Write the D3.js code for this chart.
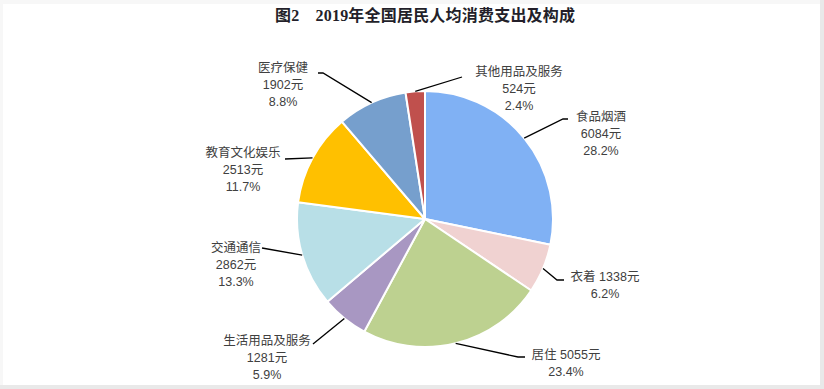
<!DOCTYPE html>
<html>
<head>
<meta charset="utf-8">
<script src="https://cdn.jsdelivr.net/npm/d3@7/dist/d3.min.js"></script>
<style>
html,body{margin:0;padding:0;background:#ebebeb;}
svg{display:block;}
</style>
</head>
<body>
<svg id="chart" width="824" height="389"></svg>
<script>
// ---- data ----
const title = "图2　2019年全国居民人均消费支出及构成";
const categories = ["食品烟酒", "衣着", "居住", "生活用品及服务", "交通通信", "教育文化娱乐", "医疗保健", "其他用品及服务"];
const values = [6084, 1338, 5055, 1281, 2862, 2513, 1902, 524];
const percents = ["28.2%", "6.2%", "23.4%", "5.9%", "13.3%", "11.7%", "8.8%", "2.4%"];
const colors = ["#80b1f4", "#f0d2d1", "#bdd190", "#a897c2", "#b8dfe7", "#ffc000", "#769fcd", "#c0504d"];

// ---- layout (styles / positions) ----
const W = 824, H = 389;
const cx = 425, cy = 219, R = 128;
// label layout per slice: elbow point & text anchor relative to pie centre
const labelLayout = [
  {elbow:[138,-100], end:[143,-100], tx:176, ty:-103, inline:false},
  {elbow:[132,61], end:[139,61], tx:180, ty:57, inline:true},
  {elbow:[93,138], end:[100,138], tx:141, ty:135, inline:true},
  {elbow:[-112,125], end:null, tx:-158, ty:121, inline:false},
  {elbow:[-163,29], end:null, tx:-189, ty:28, inline:false},
  {elbow:[-140,-60], end:null, tx:-182, ty:-67, inline:false},
  {elbow:[-102,-146], end:[-107,-146], tx:-142, ty:-152, inline:false},
  {elbow:[37,-142], end:null, tx:94, ty:-148, inline:false}
];

const svg = d3.select("#chart");
// frame
svg.append("rect").attr("x",0).attr("y",0).attr("width",W).attr("height",H).attr("fill","#e9e9e9");
svg.append("rect").attr("x",0).attr("y",0).attr("width",820).attr("height",385).attr("fill","#f7f7f7");
svg.append("rect").attr("x",3).attr("y",4).attr("width",817).attr("height",381).attr("fill","#ffffff");

// title
svg.append("text")
  .attr("x", 425).attr("y", 21)
  .attr("text-anchor","middle")
  .attr("font-family","'Liberation Serif','Noto Sans CJK SC',serif")
  .attr("font-weight","bold")
  .attr("font-size", 16)
  .attr("fill","#231f2a")
  .attr("textLength", 300)
  .attr("lengthAdjust","spacing")
  .text(title);

const pie = d3.pie().sort(null).value(d => d.value).startAngle(0).endAngle(2*Math.PI);
const data = categories.map((c,i) => ({cat:c, value:values[i], pct:percents[i], color:colors[i], lay:labelLayout[i]}));
const arcs = pie(data);
const arc = d3.arc().innerRadius(0).outerRadius(R);

const g = svg.append("g").attr("transform", `translate(${cx},${cy})`);
g.selectAll("path.slice").data(arcs).join("path")
  .attr("class","slice")
  .attr("d", arc)
  .attr("fill", d => d.data.color)
  .attr("stroke", "#ffffff")
  .attr("stroke-width", 2)
  .attr("stroke-linejoin","round");

// leader lines
g.selectAll("polyline.leader").data(arcs).join("polyline")
  .attr("class","leader")
  .attr("fill","none")
  .attr("stroke","#000")
  .attr("stroke-width",1.3)
  .attr("points", d => {
    const a = (d.startAngle + d.endAngle)/2;
    const p0 = [R*Math.sin(a), -R*Math.cos(a)];
    const pts = [p0, d.data.lay.elbow];
    if (d.data.lay.end) pts.push(d.data.lay.end);
    return pts.map(p => p.join(",")).join(" ");
  });

// labels: one text element per line
const fmt = d3.format("d");
arcs.forEach(d => {
  const L = d.data.lay;
  const lines = L.inline
    ? [d.data.cat + " " + fmt(d.data.value) + "元", d.data.pct]
    : [d.data.cat, fmt(d.data.value) + "元", d.data.pct];
  lines.forEach((s, k) => {
    g.append("text")
      .attr("class","lbl")
      .attr("text-anchor","middle")
      .attr("font-family","'Liberation Sans','Noto Sans CJK SC',sans-serif")
      .attr("font-size", 12.5)
      .attr("fill","#404040")
      .attr("x", L.tx).attr("y", L.ty + k*17 + 4.5)
      .text(s);
  });
});
</script>
</body>
</html>
